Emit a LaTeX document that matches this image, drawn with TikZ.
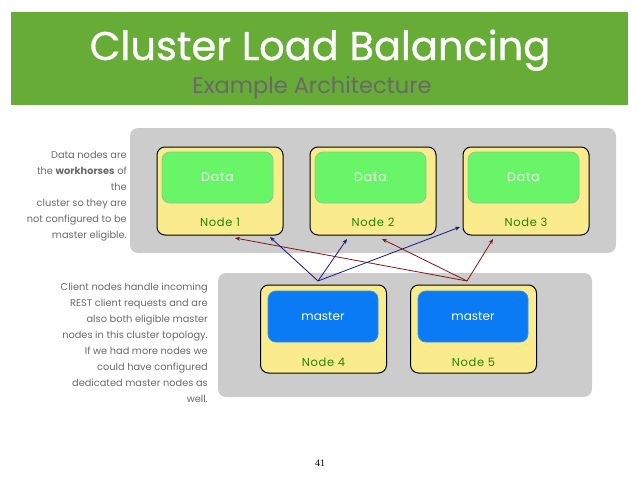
\documentclass[tikz,border=0pt]{standalone}
\usepackage{fontspec}
\setmainfont{Poppins}
\newfontfamily\numfont{Liberation Serif}
\newfontfamily\titlefont[FakeBold=0.8]{Poppins}
\newfontfamily\labelfont[LetterSpace=6]{Poppins}
\usetikzlibrary{arrows.meta}
\definecolor{bannergreen}{RGB}{102,172,54}
\definecolor{subgray}{RGB}{105,105,105}
\definecolor{txtgray}{RGB}{105,105,105}
\definecolor{panelgray}{RGB}{204,204,204}
\definecolor{nodeyellow}{RGB}{250,236,140}
\definecolor{datagreen}{RGB}{104,245,104}
\definecolor{datagreenb}{RGB}{140,200,140}
\definecolor{masterblue}{RGB}{10,122,245}
\definecolor{labelgreen}{RGB}{40,130,10}
\definecolor{arrblue}{RGB}{25,25,130}
\definecolor{arrred}{RGB}{135,20,20}
\tikzset{
  panel/.style={fill=panelgray, rounded corners=8pt},
  hostbox/.style={draw=black, line width=1pt, fill=nodeyellow, rounded corners=8pt, minimum width=126pt, minimum height=88pt, inner sep=0pt},
  databox/.style={fill=datagreen, draw=datagreenb, line width=0.8pt, rounded corners=8pt, minimum width=111pt, minimum height=51pt, text=white!92!green, font=\labelfont\fontsize{12.5}{14}\selectfont, inner sep=0pt},
  masterbox/.style={fill=masterblue, draw=masterblue!85!white, line width=0.8pt, rounded corners=8pt, minimum width=110pt, minimum height=51pt, text=white, font=\fontsize{12}{14}\selectfont, inner sep=0pt},
  hostlabel/.style={text=labelgreen, font=\labelfont\fontsize{11.5}{12}\selectfont, inner sep=0pt},
  note/.style={text=txtgray, font=\fontsize{9.8}{16}\selectfont, align=right, inner sep=0pt},
  barrow/.style={draw=arrblue, line width=0.8pt, -{Stealth[length=5pt,width=4pt]}},
  rarrow/.style={draw=arrred, line width=0.8pt, -{Stealth[length=5pt,width=4pt]}}
}
\begin{document}
\begin{tikzpicture}[x=1pt,y=-1pt]
\useasboundingbox (0,0) rectangle (638,479);
% banner
\fill[bannergreen] (11,12) rectangle (628,105);
\node[text=white, font=\titlefont\fontsize{40}{42}\selectfont, anchor=base, inner sep=0pt] (title) at (320,60) {Cluster Load Balancing};
\node[text=subgray, font=\fontsize{22.5}{24}\selectfont, anchor=base, inner sep=0pt] (subtitle) at (312,93) {Example Architecture};
% panels
\fill[panel] (130,128) rectangle (616,253);
\fill[panel] (218,273) rectangle (592,397);
% data hosts
\node[hostbox] (n1) at (220,191) {};
\node[hostbox] (n2) at (373,191) {};
\node[hostbox] (n3) at (526,191) {};
\node[databox] (d1) at (217.5,177.5) {Data};
\node[databox] (d2) at (370.5,177.5) {Data};
\node[databox] (d3) at (523.5,177.5) {Data};
\node[hostlabel] (l1) at (220,222) {Node 1};
\node[hostlabel] (l2) at (373,222) {Node 2};
\node[hostlabel] (l3) at (526,222) {Node 3};
% master hosts
\node[hostbox] (n4) at (323.5,329) {};
\node[hostbox] (n5) at (473.5,329) {};
\node[masterbox] (m4) at (323,316.5) {master};
\node[masterbox] (m5) at (473,316.5) {master};
\node[hostlabel] (l4) at (323.5,362) {Node 4};
\node[hostlabel] (l5) at (473.5,362) {Node 5};
% arrow coordinates
\coordinate (s4) at (318,281);
\coordinate (s5) at (467,281);
\coordinate (t1b) at (270,237);
\coordinate (t2b) at (347,239);
\coordinate (t3b) at (460,227);
\coordinate (t1r) at (235,238);
\coordinate (t2r) at (382,239);
\coordinate (t3r) at (493,239);
\draw[rarrow] (s5) -- (t1r);
\draw[rarrow] (s5) -- (t2r);
\draw[rarrow] (s5) -- (t3r);
\draw[barrow] (s4) -- (t1b);
\draw[barrow] (s4) -- (t2b);
\draw[barrow] (s4) -- (t3b);
% notes
\node[note, anchor=north east] (note1) at (127,151) {Data nodes are\\the \textbf{workhorses} of\\the\\cluster so they are\\not configured to be\\master eligible.};
\node[note, anchor=north east] (note2) at (208,283) {Client nodes handle incoming\\REST client requests and are\\also both eligible master\\nodes in this cluster topology.\\If we had more nodes we\\could have configured\\dedicated master nodes as\\well.};
\node[font=\numfont\fontsize{10}{12}\selectfont, inner sep=0pt] (page) at (320,463) {41};
\end{tikzpicture}
\end{document}
